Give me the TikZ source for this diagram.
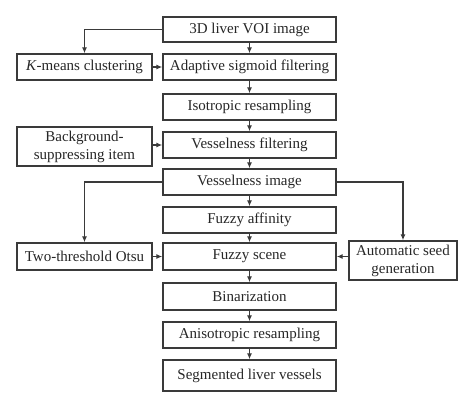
\documentclass[tikz,border=0pt]{standalone}
\usepackage{fontspec}
\setmainfont{Liberation Serif}
\usetikzlibrary{arrows.meta}
\definecolor{ln}{HTML}{3A3A3A}
\begin{document}
\begin{tikzpicture}[x=1pt,y=-1pt,
  box/.style={draw=ln,line width=1.4pt,inner sep=1pt,align=center,text=black!85,font=\fontsize{15}{18}\selectfont},
  mainbox/.style={box,minimum width=173pt,minimum height=26pt},
  leftbox/.style={box,minimum width=135pt,minimum height=26pt},
  conn/.style={draw=ln,line width=1.3pt,-{Latex[length=6pt,width=5pt]}}]
\useasboundingbox (0,0) rectangle (474,408);
\node[mainbox,minimum height=25pt] (voi) at (249.5,29.5) {3D liver VOI image};
\node[mainbox] (sig) at (249.5,67) {Adaptive sigmoid filtering};
\node[mainbox] (iso) at (249.5,107) {Isotropic resampling};
\node[mainbox] (vf) at (249.5,145) {Vesselness filtering};
\node[mainbox] (vi) at (249.5,182) {Vesselness image};
\node[mainbox] (fa) at (249.5,220) {Fuzzy affinity};
\node[mainbox,minimum height=27pt] (fs) at (249.5,256.5) {Fuzzy scene};
\node[mainbox,minimum height=27pt] (bin) at (249.5,296.5) {Binarization};
\node[mainbox] (ani) at (249.5,335) {Anisotropic resampling};
\node[mainbox,minimum height=31pt] (seg) at (249.5,375.5) {Segmented liver vessels};
\node[leftbox] (km) at (84.5,67) {\textit{K}-means clustering};
\node[leftbox,minimum height=39pt] (bg) at (84.5,146.5) {Background-\\suppressing item};
\node[leftbox,minimum height=27pt] (otsu) at (84.5,256.5) {Two-threshold Otsu};
\node[box,minimum width=108pt,minimum height=39pt] (seed) at (403,260.5) {Automatic seed\\generation};
\draw[conn] (voi) -- (sig);
\draw[conn] (sig) -- (iso);
\draw[conn] (iso) -- (vf);
\draw[conn] (vf) -- (vi);
\draw[conn] (vi) -- (fa);
\draw[conn] (fa) -- (fs);
\draw[conn] (fs) -- (bin);
\draw[conn] (bin) -- (ani);
\draw[conn] (ani) -- (seg);
\draw[conn] (voi.west) -| (km.north);
\draw[conn] (km) -- (sig);
\draw[conn] (bg.east |- vf.west) -- (vf.west);
\draw[conn] (vi.west) -| (otsu.north);
\draw[conn] (vi.east) -| (seed.north);
\draw[conn] (otsu) -- (fs);
\draw[conn] (seed.west |- fs.east) -- (fs.east);
\end{tikzpicture}
\end{document}
